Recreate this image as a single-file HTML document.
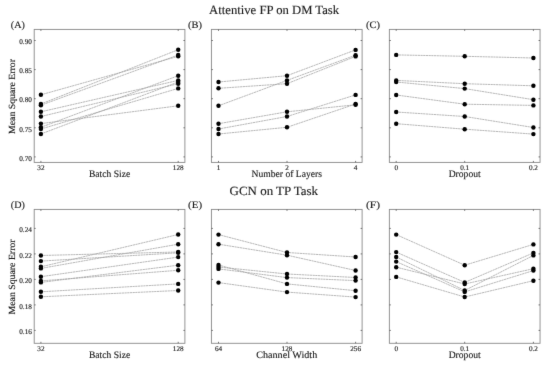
<!DOCTYPE html>
<html><head><meta charset="utf-8"><title>Hyperparameter comparison</title>
<style>
html,body{margin:0;padding:0;background:#fff;width:550px;height:365px;overflow:hidden}
svg{display:block}
.t{font-family:"Liberation Serif", "DejaVu Serif", serif;text-rendering:geometricPrecision;fill:#1e1e1e;stroke:#1e1e1e;stroke-width:0.15px}
.l{fill:none;stroke:#a3a3a3;stroke-width:0.8;stroke-dasharray:2.2 0.5}
.s{fill:none;stroke:#888888;stroke-width:0.9}
.k{fill:none;stroke:#555;stroke-width:0.8}
circle{fill:#000}
</style></head>
<body>
<svg width="550" height="365" viewBox="0 0 550 365">
<defs><filter id="b" x="0" y="0" width="550" height="365" filterUnits="userSpaceOnUse" color-interpolation-filters="sRGB"><feConvolveMatrix order="3" kernelMatrix="0.00524 0.06192 0.00524 0.06192 0.73137 0.06192 0.00524 0.06192 0.00524" edgeMode="duplicate" preserveAlpha="false"/></filter></defs>
<rect width="550" height="365" fill="#fff"/>
<g filter="url(#b)">
<text x="209.1" y="14.4" font-size="12.6" textLength="130" lengthAdjust="spacingAndGlyphs" class="t">Attentive FP on DM Task</text>
<text x="229.6" y="194.8" font-size="12.6" textLength="88.4" lengthAdjust="spacingAndGlyphs" class="t">GCN on TP Task</text>
<polyline points="40.9,94.8 178.2,56.3" class="l"/>
<polyline points="40.9,104 178.2,49.7" class="l"/>
<polyline points="40.9,105.2 178.2,55" class="l"/>
<polyline points="40.9,111.8 178.2,80.4" class="l"/>
<polyline points="40.9,116.5 178.2,83.7" class="l"/>
<polyline points="40.9,127.3 178.2,75.7" class="l"/>
<polyline points="40.9,123.6 178.2,105.8" class="l"/>
<polyline points="40.9,129 178.2,88.4" class="l"/>
<polyline points="40.9,134 178.2,82" class="l"/>
<circle cx="40.9" cy="94.8" r="2.2"/>
<circle cx="178.2" cy="56.3" r="2.2"/>
<circle cx="40.9" cy="104" r="2.2"/>
<circle cx="178.2" cy="49.7" r="2.2"/>
<circle cx="40.9" cy="105.2" r="2.2"/>
<circle cx="178.2" cy="55" r="2.2"/>
<circle cx="40.9" cy="111.8" r="2.2"/>
<circle cx="178.2" cy="80.4" r="2.2"/>
<circle cx="40.9" cy="116.5" r="2.2"/>
<circle cx="178.2" cy="83.7" r="2.2"/>
<circle cx="40.9" cy="127.3" r="2.2"/>
<circle cx="178.2" cy="75.7" r="2.2"/>
<circle cx="40.9" cy="123.6" r="2.2"/>
<circle cx="178.2" cy="105.8" r="2.2"/>
<circle cx="40.9" cy="129" r="2.2"/>
<circle cx="178.2" cy="88.4" r="2.2"/>
<circle cx="40.9" cy="134" r="2.2"/>
<circle cx="178.2" cy="82" r="2.2"/>
<rect x="34.2" y="29.4" width="150.7" height="133" class="s"/>
<path d="M40.9 162.4v-1.5M40.9 29.4v1.5M178.2 162.4v-1.5M178.2 29.4v1.5M34.2 40.5h1.5M184.9 40.5h-1.5M34.2 69.6h1.5M184.9 69.6h-1.5M34.2 98.7h1.5M184.9 98.7h-1.5M34.2 127.8h1.5M184.9 127.8h-1.5M34.2 156.9h1.5M184.9 156.9h-1.5" class="k"/>
<text x="40.9" y="170" font-size="7.2" text-anchor="middle" class="t">32</text>
<text x="178.2" y="170" font-size="7.2" text-anchor="middle" class="t">128</text>
<text x="88.95" y="177.4" font-size="9.9" textLength="41.2" lengthAdjust="spacingAndGlyphs" class="t">Batch Size</text>
<text x="10.85" y="28.2" font-size="9.9" textLength="14.0" lengthAdjust="spacingAndGlyphs" class="t">(A)</text>
<text x="31.9" y="44.2" font-size="7.25" text-anchor="end" class="t">0.90</text>
<text x="31.9" y="73.3" font-size="7.25" text-anchor="end" class="t">0.85</text>
<text x="31.9" y="102.4" font-size="7.25" text-anchor="end" class="t">0.80</text>
<text x="31.9" y="131.5" font-size="7.25" text-anchor="end" class="t">0.75</text>
<text x="31.9" y="160.6" font-size="7.25" text-anchor="end" class="t">0.70</text>
<text transform="translate(14.6 96.5) rotate(-90)" x="-37.5" y="0" font-size="9.4" textLength="75" lengthAdjust="spacingAndGlyphs" class="t">Mean Square Error</text>
<polyline points="218.5,82 287,75.7 355.6,49.9" class="l"/>
<polyline points="218.5,88.3 287,83.7 355.6,56.4" class="l"/>
<polyline points="218.5,105.8 287,80.4 355.6,55.2" class="l"/>
<polyline points="218.5,123.7 287,111.8 355.6,104.8" class="l"/>
<polyline points="218.5,129 287,116.5 355.6,94.9" class="l"/>
<polyline points="218.5,134 287,127.3 355.6,104" class="l"/>
<circle cx="218.5" cy="82" r="2.2"/>
<circle cx="287" cy="75.7" r="2.2"/>
<circle cx="355.6" cy="49.9" r="2.2"/>
<circle cx="218.5" cy="88.3" r="2.2"/>
<circle cx="287" cy="83.7" r="2.2"/>
<circle cx="355.6" cy="56.4" r="2.2"/>
<circle cx="218.5" cy="105.8" r="2.2"/>
<circle cx="287" cy="80.4" r="2.2"/>
<circle cx="355.6" cy="55.2" r="2.2"/>
<circle cx="218.5" cy="123.7" r="2.2"/>
<circle cx="287" cy="111.8" r="2.2"/>
<circle cx="355.6" cy="104.8" r="2.2"/>
<circle cx="218.5" cy="129" r="2.2"/>
<circle cx="287" cy="116.5" r="2.2"/>
<circle cx="355.6" cy="94.9" r="2.2"/>
<circle cx="218.5" cy="134" r="2.2"/>
<circle cx="287" cy="127.3" r="2.2"/>
<circle cx="355.6" cy="104" r="2.2"/>
<rect x="211.4" y="29.4" width="150.7" height="133" class="s"/>
<path d="M218.5 162.4v-1.5M218.5 29.4v1.5M287 162.4v-1.5M287 29.4v1.5M355.6 162.4v-1.5M355.6 29.4v1.5M211.4 40.5h1.5M362.1 40.5h-1.5M211.4 69.6h1.5M362.1 69.6h-1.5M211.4 98.7h1.5M362.1 98.7h-1.5M211.4 127.8h1.5M362.1 127.8h-1.5M211.4 156.9h1.5M362.1 156.9h-1.5" class="k"/>
<text x="218.5" y="170" font-size="7.2" text-anchor="middle" class="t">1</text>
<text x="287" y="170" font-size="7.2" text-anchor="middle" class="t">2</text>
<text x="355.6" y="170" font-size="7.2" text-anchor="middle" class="t">4</text>
<text x="251.5" y="177.4" font-size="9.9" textLength="70.5" lengthAdjust="spacingAndGlyphs" class="t">Number of Layers</text>
<text x="188.05" y="28.2" font-size="9.9" textLength="14.0" lengthAdjust="spacingAndGlyphs" class="t">(B)</text>
<polyline points="396.2,54.9 464.7,56.3 533.4,58" class="l"/>
<polyline points="396.2,80.4 464.7,83.7 533.4,85.8" class="l"/>
<polyline points="396.2,82 464.7,88.6 533.4,99.7" class="l"/>
<polyline points="396.2,95 464.7,104.2 533.4,105.4" class="l"/>
<polyline points="396.2,112 464.7,116.5 533.4,127.5" class="l"/>
<polyline points="396.2,123.7 464.7,129.2 533.4,134.1" class="l"/>
<circle cx="396.2" cy="54.9" r="2.2"/>
<circle cx="464.7" cy="56.3" r="2.2"/>
<circle cx="533.4" cy="58" r="2.2"/>
<circle cx="396.2" cy="80.4" r="2.2"/>
<circle cx="464.7" cy="83.7" r="2.2"/>
<circle cx="533.4" cy="85.8" r="2.2"/>
<circle cx="396.2" cy="82" r="2.2"/>
<circle cx="464.7" cy="88.6" r="2.2"/>
<circle cx="533.4" cy="99.7" r="2.2"/>
<circle cx="396.2" cy="95" r="2.2"/>
<circle cx="464.7" cy="104.2" r="2.2"/>
<circle cx="533.4" cy="105.4" r="2.2"/>
<circle cx="396.2" cy="112" r="2.2"/>
<circle cx="464.7" cy="116.5" r="2.2"/>
<circle cx="533.4" cy="127.5" r="2.2"/>
<circle cx="396.2" cy="123.7" r="2.2"/>
<circle cx="464.7" cy="129.2" r="2.2"/>
<circle cx="533.4" cy="134.1" r="2.2"/>
<rect x="389.35" y="29.4" width="150.7" height="133" class="s"/>
<path d="M396.2 162.4v-1.5M396.2 29.4v1.5M464.7 162.4v-1.5M464.7 29.4v1.5M533.4 162.4v-1.5M533.4 29.4v1.5M389.35 40.5h1.5M540.05 40.5h-1.5M389.35 69.6h1.5M540.05 69.6h-1.5M389.35 98.7h1.5M540.05 98.7h-1.5M389.35 127.8h1.5M540.05 127.8h-1.5M389.35 156.9h1.5M540.05 156.9h-1.5" class="k"/>
<text x="396.2" y="170" font-size="7.2" text-anchor="middle" class="t">0</text>
<text x="464.7" y="170" font-size="7.2" text-anchor="middle" class="t">0.1</text>
<text x="533.4" y="170" font-size="7.2" text-anchor="middle" class="t">0.2</text>
<text x="448.7" y="177.4" font-size="9.9" textLength="32" lengthAdjust="spacingAndGlyphs" class="t">Dropout</text>
<text x="366" y="28.2" font-size="9.9" textLength="14.0" lengthAdjust="spacingAndGlyphs" class="t">(C)</text>
<polyline points="40.9,255.5 178.2,252" class="l"/>
<polyline points="40.9,261.1 178.2,252.8" class="l"/>
<polyline points="40.9,266.8 178.2,234.5" class="l"/>
<polyline points="40.9,268.4 178.2,244.2" class="l"/>
<polyline points="40.9,276.7 178.2,257.1" class="l"/>
<polyline points="40.9,280.9 178.2,270.3" class="l"/>
<polyline points="40.9,282.4 178.2,265.2" class="l"/>
<polyline points="40.9,291.8 178.2,283.9" class="l"/>
<polyline points="40.9,296.8 178.2,290.5" class="l"/>
<circle cx="40.9" cy="255.5" r="2.2"/>
<circle cx="178.2" cy="252" r="2.2"/>
<circle cx="40.9" cy="261.1" r="2.2"/>
<circle cx="178.2" cy="252.8" r="2.2"/>
<circle cx="40.9" cy="266.8" r="2.2"/>
<circle cx="178.2" cy="234.5" r="2.2"/>
<circle cx="40.9" cy="268.4" r="2.2"/>
<circle cx="178.2" cy="244.2" r="2.2"/>
<circle cx="40.9" cy="276.7" r="2.2"/>
<circle cx="178.2" cy="257.1" r="2.2"/>
<circle cx="40.9" cy="280.9" r="2.2"/>
<circle cx="178.2" cy="270.3" r="2.2"/>
<circle cx="40.9" cy="282.4" r="2.2"/>
<circle cx="178.2" cy="265.2" r="2.2"/>
<circle cx="40.9" cy="291.8" r="2.2"/>
<circle cx="178.2" cy="283.9" r="2.2"/>
<circle cx="40.9" cy="296.8" r="2.2"/>
<circle cx="178.2" cy="290.5" r="2.2"/>
<rect x="34.2" y="209.4" width="150.7" height="133.9" class="s"/>
<path d="M40.9 343.3v-1.5M40.9 209.4v1.5M178.2 343.3v-1.5M178.2 209.4v1.5M34.2 228.4h1.5M184.9 228.4h-1.5M34.2 253.9h1.5M184.9 253.9h-1.5M34.2 279.4h1.5M184.9 279.4h-1.5M34.2 304.9h1.5M184.9 304.9h-1.5M34.2 330.4h1.5M184.9 330.4h-1.5" class="k"/>
<text x="40.9" y="350.9" font-size="7.2" text-anchor="middle" class="t">32</text>
<text x="178.2" y="350.9" font-size="7.2" text-anchor="middle" class="t">128</text>
<text x="88.95" y="358.3" font-size="9.9" textLength="41.2" lengthAdjust="spacingAndGlyphs" class="t">Batch Size</text>
<text x="10.85" y="208.2" font-size="9.9" textLength="14.0" lengthAdjust="spacingAndGlyphs" class="t">(D)</text>
<text x="31.9" y="232.1" font-size="7.25" text-anchor="end" class="t">0.24</text>
<text x="31.9" y="257.6" font-size="7.25" text-anchor="end" class="t">0.22</text>
<text x="31.9" y="283.1" font-size="7.25" text-anchor="end" class="t">0.20</text>
<text x="31.9" y="308.6" font-size="7.25" text-anchor="end" class="t">0.18</text>
<text x="31.9" y="334.1" font-size="7.25" text-anchor="end" class="t">0.16</text>
<text transform="translate(14.6 276.95) rotate(-90)" x="-37.5" y="0" font-size="9.4" textLength="75" lengthAdjust="spacingAndGlyphs" class="t">Mean Square Error</text>
<polyline points="218.5,234.6 287,252.5 355.6,257" class="l"/>
<polyline points="218.5,244.2 287,255.2 355.6,270.5" class="l"/>
<polyline points="218.5,265 287,283.9 355.6,290.7" class="l"/>
<polyline points="218.5,267 287,274 355.6,277.5" class="l"/>
<polyline points="218.5,268.9 287,277.6 355.6,280.6" class="l"/>
<polyline points="218.5,282.6 287,292.1 355.6,297.1" class="l"/>
<circle cx="218.5" cy="234.6" r="2.2"/>
<circle cx="287" cy="252.5" r="2.2"/>
<circle cx="355.6" cy="257" r="2.2"/>
<circle cx="218.5" cy="244.2" r="2.2"/>
<circle cx="287" cy="255.2" r="2.2"/>
<circle cx="355.6" cy="270.5" r="2.2"/>
<circle cx="218.5" cy="265" r="2.2"/>
<circle cx="287" cy="283.9" r="2.2"/>
<circle cx="355.6" cy="290.7" r="2.2"/>
<circle cx="218.5" cy="267" r="2.2"/>
<circle cx="287" cy="274" r="2.2"/>
<circle cx="355.6" cy="277.5" r="2.2"/>
<circle cx="218.5" cy="268.9" r="2.2"/>
<circle cx="287" cy="277.6" r="2.2"/>
<circle cx="355.6" cy="280.6" r="2.2"/>
<circle cx="218.5" cy="282.6" r="2.2"/>
<circle cx="287" cy="292.1" r="2.2"/>
<circle cx="355.6" cy="297.1" r="2.2"/>
<rect x="211.4" y="209.4" width="150.7" height="133.9" class="s"/>
<path d="M218.5 343.3v-1.5M218.5 209.4v1.5M287 343.3v-1.5M287 209.4v1.5M355.6 343.3v-1.5M355.6 209.4v1.5M211.4 228.4h1.5M362.1 228.4h-1.5M211.4 253.9h1.5M362.1 253.9h-1.5M211.4 279.4h1.5M362.1 279.4h-1.5M211.4 304.9h1.5M362.1 304.9h-1.5M211.4 330.4h1.5M362.1 330.4h-1.5" class="k"/>
<text x="218.5" y="350.9" font-size="7.2" text-anchor="middle" class="t">64</text>
<text x="287" y="350.9" font-size="7.2" text-anchor="middle" class="t">128</text>
<text x="355.6" y="350.9" font-size="7.2" text-anchor="middle" class="t">256</text>
<text x="256.25" y="358.3" font-size="9.9" textLength="61" lengthAdjust="spacingAndGlyphs" class="t">Channel Width</text>
<text x="188.05" y="208.2" font-size="9.9" textLength="14.0" lengthAdjust="spacingAndGlyphs" class="t">(E)</text>
<polyline points="396.2,234.6 464.7,265.2 533.4,244.4" class="l"/>
<polyline points="396.2,252.1 464.7,282.4 533.4,252.9" class="l"/>
<polyline points="396.2,267.2 464.7,284 533.4,268.7" class="l"/>
<polyline points="396.2,257 464.7,290.5 533.4,255.4" class="l"/>
<polyline points="396.2,261.6 464.7,291.9 533.4,270.6" class="l"/>
<polyline points="396.2,276.9 464.7,297 533.4,280.7" class="l"/>
<circle cx="396.2" cy="234.6" r="2.2"/>
<circle cx="464.7" cy="265.2" r="2.2"/>
<circle cx="533.4" cy="244.4" r="2.2"/>
<circle cx="396.2" cy="252.1" r="2.2"/>
<circle cx="464.7" cy="282.4" r="2.2"/>
<circle cx="533.4" cy="252.9" r="2.2"/>
<circle cx="396.2" cy="267.2" r="2.2"/>
<circle cx="464.7" cy="284" r="2.2"/>
<circle cx="533.4" cy="268.7" r="2.2"/>
<circle cx="396.2" cy="257" r="2.2"/>
<circle cx="464.7" cy="290.5" r="2.2"/>
<circle cx="533.4" cy="255.4" r="2.2"/>
<circle cx="396.2" cy="261.6" r="2.2"/>
<circle cx="464.7" cy="291.9" r="2.2"/>
<circle cx="533.4" cy="270.6" r="2.2"/>
<circle cx="396.2" cy="276.9" r="2.2"/>
<circle cx="464.7" cy="297" r="2.2"/>
<circle cx="533.4" cy="280.7" r="2.2"/>
<rect x="389.35" y="209.4" width="150.7" height="133.9" class="s"/>
<path d="M396.2 343.3v-1.5M396.2 209.4v1.5M464.7 343.3v-1.5M464.7 209.4v1.5M533.4 343.3v-1.5M533.4 209.4v1.5M389.35 228.4h1.5M540.05 228.4h-1.5M389.35 253.9h1.5M540.05 253.9h-1.5M389.35 279.4h1.5M540.05 279.4h-1.5M389.35 304.9h1.5M540.05 304.9h-1.5M389.35 330.4h1.5M540.05 330.4h-1.5" class="k"/>
<text x="396.2" y="350.9" font-size="7.2" text-anchor="middle" class="t">0</text>
<text x="464.7" y="350.9" font-size="7.2" text-anchor="middle" class="t">0.1</text>
<text x="533.4" y="350.9" font-size="7.2" text-anchor="middle" class="t">0.2</text>
<text x="448.7" y="358.3" font-size="9.9" textLength="32" lengthAdjust="spacingAndGlyphs" class="t">Dropout</text>
<text x="366" y="208.2" font-size="9.9" textLength="14.0" lengthAdjust="spacingAndGlyphs" class="t">(F)</text>
</g>
</svg>
</body></html>
